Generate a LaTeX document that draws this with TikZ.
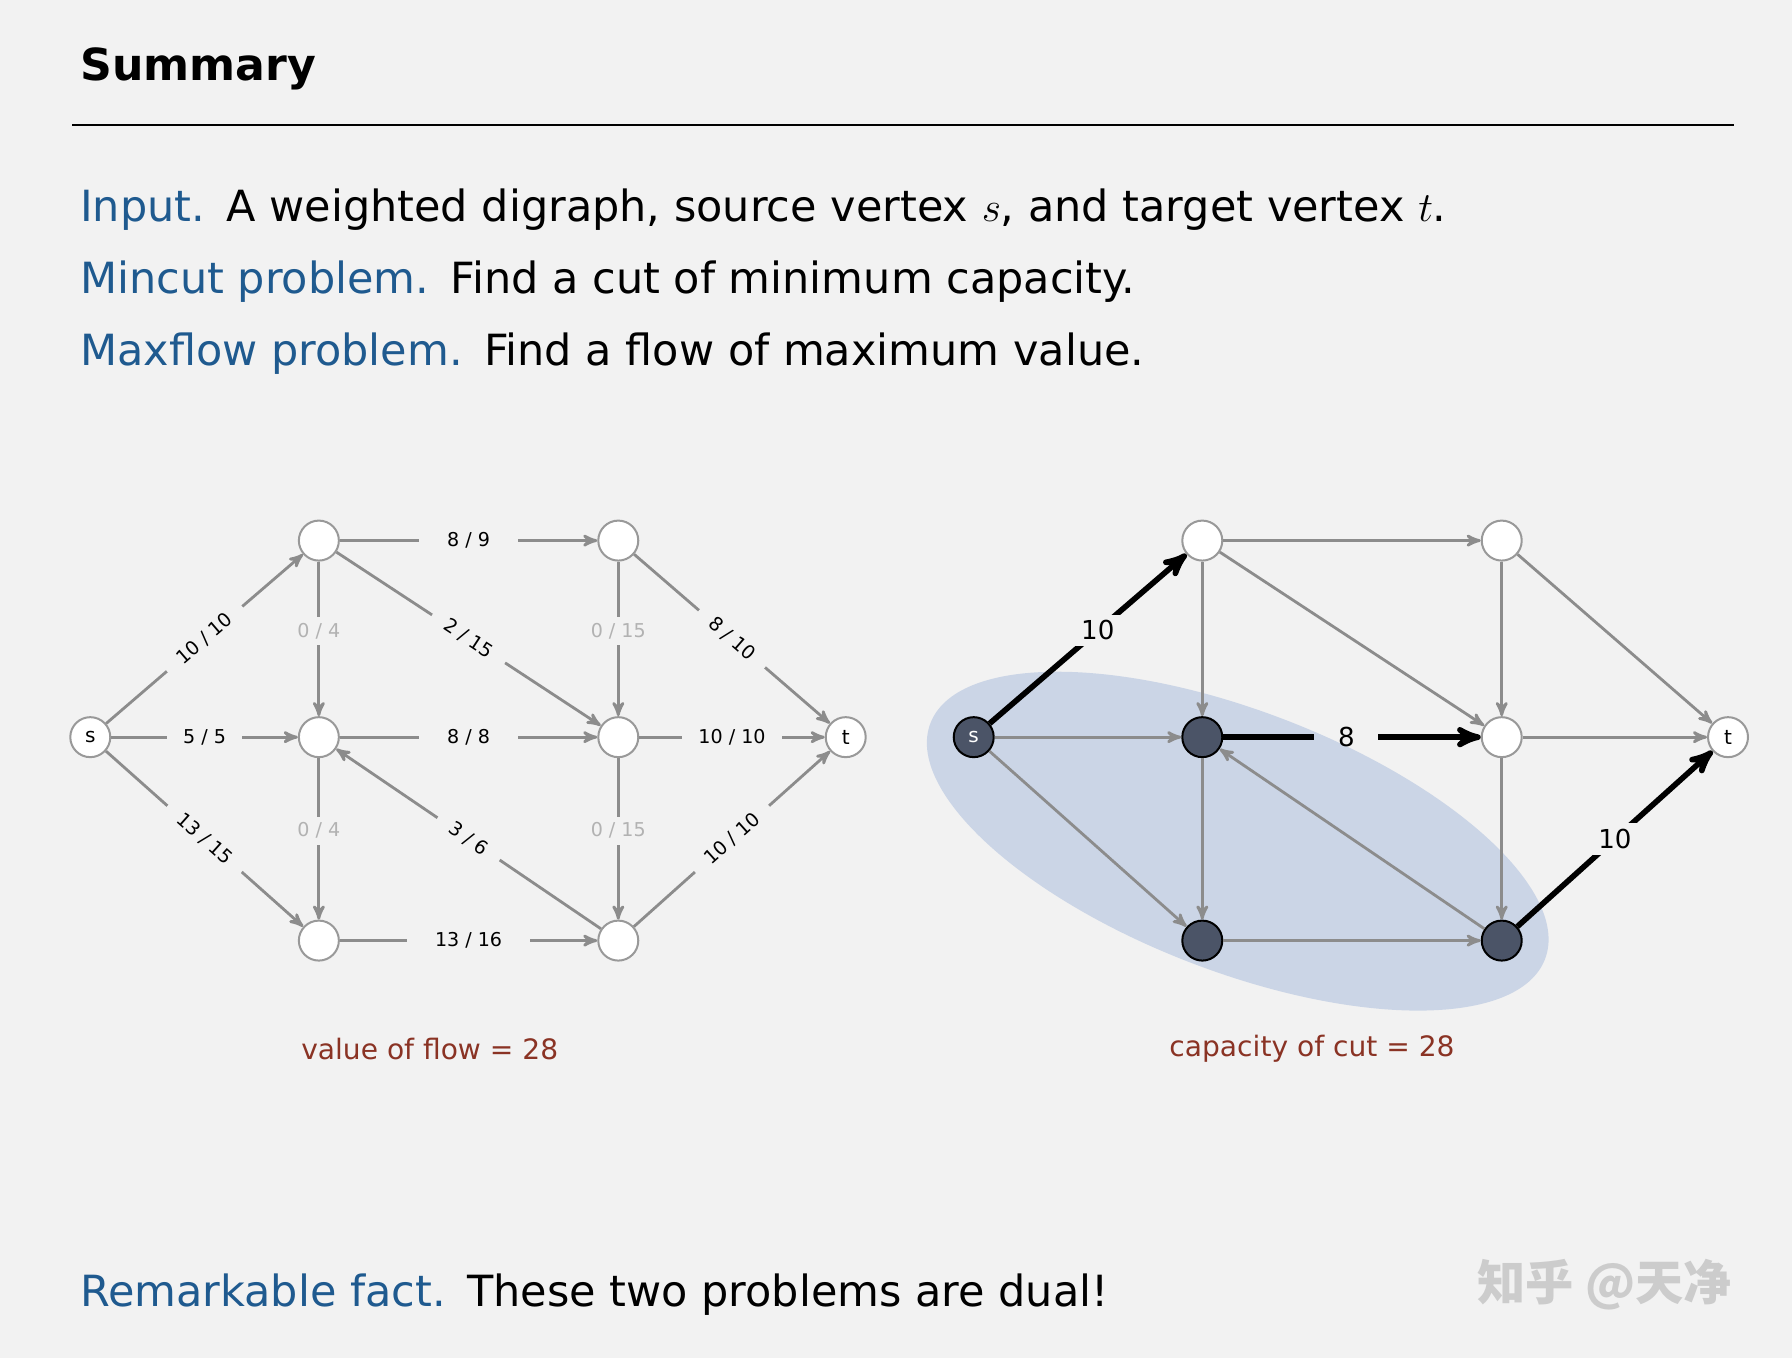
\documentclass[tikz,border=0pt]{standalone}
\usepackage{fontspec}
\setmainfont{DejaVu Sans}
\newfontfamily\cjk{Noto Sans CJK SC}
\usepackage{tikz}
\usetikzlibrary{arrows}
\definecolor{bg}{HTML}{F2F2F2}
\definecolor{hdblue}{HTML}{1F5A8F}
\definecolor{capred}{HTML}{8A3324}
\definecolor{cutfill}{HTML}{CBD5E6}
\definecolor{darknode}{HTML}{4B5467}
\tikzset{
  vtx/.style={circle,draw=gray!80,line width=1pt,fill=white,minimum size=0.7cm,inner sep=0pt,font=\fontsize{10}{10}\selectfont},
  dvtx/.style={vtx,draw=black,fill=darknode,text=white},
  edge/.style={draw=gray!90,line width=1.4pt,-stealth'},
  cutedge/.style={draw=black,line width=2.8pt,-stealth'},
  lbl/.style={fill=bg,font=\fontsize{9.5}{10}\selectfont,inner xsep=8pt,inner ysep=3pt},
  glbl/.style={lbl,text=gray!60},
  clbl/.style={font=\fontsize{13}{13}\selectfont,inner xsep=9pt,inner ysep=3pt}
}
\begin{document}
\begin{tikzpicture}[x=0.02cm,y=-0.02cm]
  \useasboundingbox[fill=bg] (0,0) rectangle (1568,1188);
  \node[anchor=west,font=\fontsize{22}{22}\selectfont\bfseries] at (64,60) {Summary};
  \draw[line width=1pt] (63,109) -- (1517,109);
  \node[anchor=west,font=\fontsize{21.4}{21.4}\selectfont] at (64,183) {\textcolor{hdblue}{Input.}\enspace A weighted digraph, source vertex $s$, and target vertex $t$.};
  \node[anchor=west,font=\fontsize{21.4}{21.4}\selectfont] at (64,246) {\textcolor{hdblue}{Mincut problem.}\enspace Find a cut of minimum capacity.};
  \node[anchor=west,font=\fontsize{21.4}{21.4}\selectfont] at (64,309) {\textcolor{hdblue}{Maxflow problem.}\enspace Find a flow of maximum value.};
  \node[anchor=west,font=\fontsize{21.4}{21.4}\selectfont] at (64,1133) {\textcolor{hdblue}{Remarkable fact.}\enspace These two problems are dual!};
  % flow network
  \node[vtx] (s) at (79,645) {s};
  \node[vtx] (a) at (279,473) {};
  \node[vtx] (b) at (541,473) {};
  \node[vtx] (c) at (279,645) {};
  \node[vtx] (d) at (541,645) {};
  \node[vtx] (t) at (740,645) {t};
  \node[vtx] (e) at (279,823) {};
  \node[vtx] (f) at (541,823) {};
  \draw[edge] (s) -- node[lbl,sloped]{10 / 10} (a);
  \draw[edge] (s) -- node[lbl]{5 / 5} (c);
  \draw[edge] (s) -- node[lbl,sloped]{13 / 15} (e);
  \draw[edge] (a) -- node[lbl,inner xsep=14pt]{8 / 9} (b);
  \draw[edge] (a) -- node[glbl,pos=0.45]{0 / 4} (c);
  \draw[edge] (a) -- node[lbl,sloped,pos=0.5]{2 / 15} (d);
  \draw[edge] (b) -- node[glbl,pos=0.45]{0 / 15} (d);
  \draw[edge] (b) -- node[lbl,sloped]{8 / 10} (t);
  \draw[edge] (c) -- node[lbl,inner xsep=14pt]{8 / 8} (d);
  \draw[edge] (d) -- node[lbl]{10 / 10} (t);
  \draw[edge] (c) -- node[glbl,pos=0.45]{0 / 4} (e);
  \draw[edge] (f) -- node[lbl,sloped,pos=0.5]{3 / 6} (c);
  \draw[edge] (d) -- node[glbl,pos=0.45]{0 / 15} (f);
  \draw[edge] (e) -- node[lbl,inner xsep=14pt]{13 / 16} (f);
  \draw[edge] (f) -- node[lbl,sloped]{10 / 10} (t);
  \node[text=capred,font=\fontsize{14}{14}\selectfont] (flowcap) at (376,918) {value of flow = 28};
  % cut
  \fill[cutfill] (1083,736) ellipse [x radius=288, y radius=114, rotate=-21];
  \node[dvtx] (s2) at (852,645) {s};
  \node[vtx] (a2) at (1052,473) {};
  \node[vtx] (b2) at (1314,473) {};
  \node[dvtx] (c2) at (1052,645) {};
  \node[vtx] (d2) at (1314,645) {};
  \node[vtx] (t2) at (1512,645) {t};
  \node[dvtx] (e2) at (1052,823) {};
  \node[dvtx] (f2) at (1314,823) {};
  \draw[edge] (s2) -- (c2);
  \draw[edge] (s2) -- (e2);
  \draw[edge] (a2) -- (b2);
  \draw[edge] (a2) -- (c2);
  \draw[edge] (a2) -- (d2);
  \draw[edge] (b2) -- (d2);
  \draw[edge] (b2) -- (t2);
  \draw[edge] (d2) -- (t2);
  \draw[edge] (c2) -- (e2);
  \draw[edge] (f2) -- (c2);
  \draw[edge] (d2) -- (f2);
  \draw[edge] (e2) -- (f2);
  \draw[cutedge] (s2) -- node[clbl,fill=bg,pos=0.55]{10} (a2);
  \coordinate (gapl) at (1150,645);
  \coordinate (gapr) at (1206,645);
  \node[clbl] (eight) at (1178,645) {8};
  \draw[draw=black,line width=2.8pt] (c2) -- (gapl);
  \draw[cutedge] (gapr) -- (d2);
  \draw[cutedge] (f2) -- node[clbl,fill=bg,pos=0.5]{10} (t2);
  \node[text=capred,font=\fontsize{14}{14}\selectfont] (cutcap) at (1148,918) {capacity of cut = 28};
  \node[text=gray!40,font=\cjk\fontsize{24}{24}\selectfont\bfseries] (mark) at (1404,1124) {知乎 @天净};
\end{tikzpicture}
\end{document}
